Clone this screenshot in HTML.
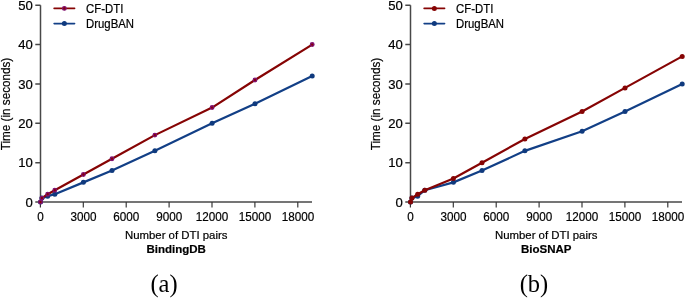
<!DOCTYPE html>
<html><head><meta charset="utf-8"><style>
html,body{margin:0;padding:0;background:#fff;width:685px;height:298px;overflow:hidden}
svg{display:block}
text{font-family:"Liberation Sans",Arial,sans-serif;fill:#000;stroke:#000;stroke-width:0.2px}
.cap{font-family:"Liberation Serif",serif;stroke:none}
</style></head><body>
<svg width="685" height="298" viewBox="0 0 685 298">
<path d="M40.5 5.2V202.05H312" fill="none" stroke="#484848" stroke-width="1.5"/>
<path d="M35.3 202.05H40.5M35.3 162.68H40.5M35.3 123.31H40.5M35.3 83.94H40.5M35.3 44.57H40.5M35.3 5.2H40.5" fill="none" stroke="#484848" stroke-width="1.5"/>
<path d="M40.4 202.05V207.45M83.3 202.05V207.45M126.2 202.05V207.45M169.1 202.05V207.45M212 202.05V207.45M254.9 202.05V207.45M297.8 202.05V207.45" fill="none" stroke="#333" stroke-width="1.15"/>
<text transform="translate(32.8 206.85) scale(0.98 1)" text-anchor="end" font-size="13.4">0</text>
<text transform="translate(32.8 167.48) scale(0.98 1)" text-anchor="end" font-size="13.4">10</text>
<text transform="translate(32.8 128.11) scale(0.98 1)" text-anchor="end" font-size="13.4">20</text>
<text transform="translate(32.8 88.74) scale(0.98 1)" text-anchor="end" font-size="13.4">30</text>
<text transform="translate(32.8 49.37) scale(0.98 1)" text-anchor="end" font-size="13.4">40</text>
<text transform="translate(32.8 10) scale(0.98 1)" text-anchor="end" font-size="13.4">50</text>
<text transform="translate(40.5 220.5) scale(0.9 1)" text-anchor="middle" font-size="13.0">0</text>
<text transform="translate(83.4 220.5) scale(0.9 1)" text-anchor="middle" font-size="13.0">3000</text>
<text transform="translate(126.3 220.5) scale(0.9 1)" text-anchor="middle" font-size="13.0">6000</text>
<text transform="translate(169.2 220.5) scale(0.9 1)" text-anchor="middle" font-size="13.0">9000</text>
<text transform="translate(212.1 220.5) scale(0.9 1)" text-anchor="middle" font-size="13.0">12000</text>
<text transform="translate(255 220.5) scale(0.9 1)" text-anchor="middle" font-size="13.0">15000</text>
<text transform="translate(297.9 220.5) scale(0.9 1)" text-anchor="middle" font-size="13.0">18000</text>
<path d="M40.5 202.05L41.93 198.11L47.65 196.14L54.8 194.18L83.4 182.37L112 170.55L154.9 150.87L212.1 123.31L255 103.63L312.2 76.07" fill="none" stroke="#123f86" stroke-width="2.2" stroke-linejoin="round"/>
<circle cx="40.5" cy="202.05" r="2.5" fill="#0f3a7e"/>
<circle cx="41.93" cy="198.11" r="2.5" fill="#0f3a7e"/>
<circle cx="47.65" cy="196.14" r="2.5" fill="#0f3a7e"/>
<circle cx="54.8" cy="194.18" r="2.5" fill="#0f3a7e"/>
<circle cx="83.4" cy="182.37" r="2.5" fill="#0f3a7e"/>
<circle cx="112" cy="170.55" r="2.5" fill="#0f3a7e"/>
<circle cx="154.9" cy="150.87" r="2.5" fill="#0f3a7e"/>
<circle cx="212.1" cy="123.31" r="2.5" fill="#0f3a7e"/>
<circle cx="255" cy="103.63" r="2.5" fill="#0f3a7e"/>
<circle cx="312.2" cy="76.07" r="2.5" fill="#0f3a7e"/>
<path d="M40.5 202.05L41.93 198.11L47.65 194.18L54.8 190.24L83.4 174.49L112 158.74L154.9 135.12L212.1 107.56L255 80L312.2 44.57" fill="none" stroke="#860404" stroke-width="2.2" stroke-linejoin="round"/>
<circle cx="40.5" cy="202.05" r="1.8" fill="#860404" stroke="#801070" stroke-width="1.3"/>
<circle cx="41.93" cy="198.11" r="1.8" fill="#860404" stroke="#801070" stroke-width="1.3"/>
<circle cx="47.65" cy="194.18" r="1.8" fill="#860404" stroke="#801070" stroke-width="1.3"/>
<circle cx="54.8" cy="190.24" r="1.8" fill="#860404" stroke="#801070" stroke-width="1.3"/>
<circle cx="83.4" cy="174.49" r="1.8" fill="#860404" stroke="#801070" stroke-width="1.3"/>
<circle cx="112" cy="158.74" r="1.8" fill="#860404" stroke="#801070" stroke-width="1.3"/>
<circle cx="154.9" cy="135.12" r="1.8" fill="#860404" stroke="#801070" stroke-width="1.3"/>
<circle cx="212.1" cy="107.56" r="1.8" fill="#860404" stroke="#801070" stroke-width="1.3"/>
<circle cx="255" cy="80" r="1.8" fill="#860404" stroke="#801070" stroke-width="1.3"/>
<circle cx="312.2" cy="44.57" r="1.8" fill="#860404" stroke="#801070" stroke-width="1.3"/>
<path d="M54.1 8.4H74.6" stroke="#860404" stroke-width="1.6" stroke-linecap="round"/>
<circle cx="64.35" cy="8.4" r="1.8" fill="#860404" stroke="#801070" stroke-width="1.3"/>
<text transform="translate(86 12.8) scale(0.95 1)" font-size="12.0">CF-DTI</text>
<path d="M54.1 23.6H74.6" stroke="#123f86" stroke-width="1.6" stroke-linecap="round"/>
<circle cx="64.35" cy="23.6" r="2.5" fill="#0f3a7e"/>
<text transform="translate(86 28) scale(0.95 1)" font-size="12.0">DrugBAN</text>
<text x="176.2" y="238.8" text-anchor="middle" font-size="11.4">Number of DTI pairs</text>
<text x="176.2" y="252.7" text-anchor="middle" font-size="11.5" font-weight="bold">BindingDB</text>
<text transform="translate(9.7 104) rotate(-90) scale(0.975 1)" text-anchor="middle" font-size="12.0">Time (in seconds)</text>
<text x="164" y="291.5" text-anchor="middle" font-size="24.5" class="cap">(a)</text>
<path d="M410.5 5.2V202.05H682" fill="none" stroke="#484848" stroke-width="1.5"/>
<path d="M405.3 202.05H410.5M405.3 162.68H410.5M405.3 123.31H410.5M405.3 83.94H410.5M405.3 44.57H410.5M405.3 5.2H410.5" fill="none" stroke="#484848" stroke-width="1.5"/>
<path d="M410.4 202.05V207.45M453.3 202.05V207.45M496.2 202.05V207.45M539.1 202.05V207.45M582 202.05V207.45M624.9 202.05V207.45M667.8 202.05V207.45" fill="none" stroke="#333" stroke-width="1.15"/>
<text transform="translate(402.8 206.85) scale(0.98 1)" text-anchor="end" font-size="13.4">0</text>
<text transform="translate(402.8 167.48) scale(0.98 1)" text-anchor="end" font-size="13.4">10</text>
<text transform="translate(402.8 128.11) scale(0.98 1)" text-anchor="end" font-size="13.4">20</text>
<text transform="translate(402.8 88.74) scale(0.98 1)" text-anchor="end" font-size="13.4">30</text>
<text transform="translate(402.8 49.37) scale(0.98 1)" text-anchor="end" font-size="13.4">40</text>
<text transform="translate(402.8 10) scale(0.98 1)" text-anchor="end" font-size="13.4">50</text>
<text transform="translate(410.5 220.5) scale(0.9 1)" text-anchor="middle" font-size="13.0">0</text>
<text transform="translate(453.4 220.5) scale(0.9 1)" text-anchor="middle" font-size="13.0">3000</text>
<text transform="translate(496.3 220.5) scale(0.9 1)" text-anchor="middle" font-size="13.0">6000</text>
<text transform="translate(539.2 220.5) scale(0.9 1)" text-anchor="middle" font-size="13.0">9000</text>
<text transform="translate(582.1 220.5) scale(0.9 1)" text-anchor="middle" font-size="13.0">12000</text>
<text transform="translate(625 220.5) scale(0.9 1)" text-anchor="middle" font-size="13.0">15000</text>
<text transform="translate(667.9 220.5) scale(0.9 1)" text-anchor="middle" font-size="13.0">18000</text>
<path d="M410.5 202.05L411.93 198.11L417.65 196.14L424.8 190.24L453.4 182.37L482 170.55L524.9 150.87L582.1 131.18L625 111.5L682.2 83.94" fill="none" stroke="#123f86" stroke-width="2.2" stroke-linejoin="round"/>
<circle cx="410.5" cy="202.05" r="2.5" fill="#0f3a7e"/>
<circle cx="411.93" cy="198.11" r="2.5" fill="#0f3a7e"/>
<circle cx="417.65" cy="196.14" r="2.5" fill="#0f3a7e"/>
<circle cx="424.8" cy="190.24" r="2.5" fill="#0f3a7e"/>
<circle cx="453.4" cy="182.37" r="2.5" fill="#0f3a7e"/>
<circle cx="482" cy="170.55" r="2.5" fill="#0f3a7e"/>
<circle cx="524.9" cy="150.87" r="2.5" fill="#0f3a7e"/>
<circle cx="582.1" cy="131.18" r="2.5" fill="#0f3a7e"/>
<circle cx="625" cy="111.5" r="2.5" fill="#0f3a7e"/>
<circle cx="682.2" cy="83.94" r="2.5" fill="#0f3a7e"/>
<path d="M410.5 202.05L411.93 198.11L417.65 194.18L424.8 190.24L453.4 178.43L482 162.68L524.9 139.06L582.1 111.5L625 87.88L682.2 56.38" fill="none" stroke="#860404" stroke-width="2.2" stroke-linejoin="round"/>
<circle cx="410.5" cy="202.05" r="2.5" fill="#860404"/>
<circle cx="411.93" cy="198.11" r="2.5" fill="#860404"/>
<circle cx="417.65" cy="194.18" r="2.5" fill="#860404"/>
<circle cx="424.8" cy="190.24" r="2.5" fill="#860404"/>
<circle cx="453.4" cy="178.43" r="2.5" fill="#860404"/>
<circle cx="482" cy="162.68" r="2.5" fill="#860404"/>
<circle cx="524.9" cy="139.06" r="2.5" fill="#860404"/>
<circle cx="582.1" cy="111.5" r="2.5" fill="#860404"/>
<circle cx="625" cy="87.88" r="2.5" fill="#860404"/>
<circle cx="682.2" cy="56.38" r="2.5" fill="#860404"/>
<path d="M424.1 8.4H444.6" stroke="#860404" stroke-width="1.6" stroke-linecap="round"/>
<circle cx="434.35" cy="8.4" r="2.5" fill="#860404"/>
<text transform="translate(456 12.8) scale(0.95 1)" font-size="12.0">CF-DTI</text>
<path d="M424.1 23.6H444.6" stroke="#123f86" stroke-width="1.6" stroke-linecap="round"/>
<circle cx="434.35" cy="23.6" r="2.5" fill="#0f3a7e"/>
<text transform="translate(456 28) scale(0.95 1)" font-size="12.0">DrugBAN</text>
<text x="546.2" y="238.8" text-anchor="middle" font-size="11.4">Number of DTI pairs</text>
<text x="546.2" y="252.7" text-anchor="middle" font-size="11.5" font-weight="bold">BioSNAP</text>
<text transform="translate(379.7 104) rotate(-90) scale(0.975 1)" text-anchor="middle" font-size="12.0">Time (in seconds)</text>
<text x="534" y="291.5" text-anchor="middle" font-size="24.5" class="cap">(b)</text>
</svg>
</body></html>
